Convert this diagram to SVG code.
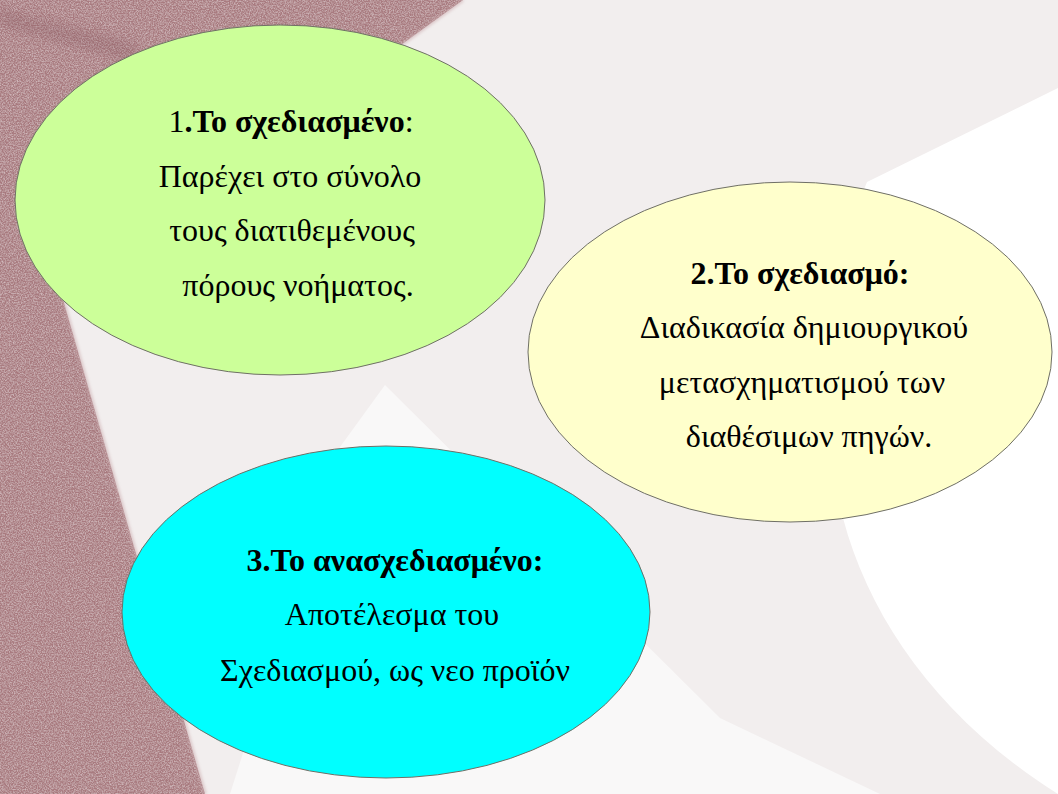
<svg xmlns="http://www.w3.org/2000/svg" width="1058" height="794" viewBox="0 0 1058 794">
  <defs>
    <filter id="grain" x="0" y="0" width="1" height="1">
      <feTurbulence type="fractalNoise" baseFrequency="0.75" numOctaves="2" seed="7" result="noise"/>
      <feColorMatrix in="noise" type="matrix" values="0 0 0 0 0.86  0 0 0 0 0.74  0 0 0 0 0.76  1.1 0 0 0 -0.4" result="spk"/>
      <feComposite in="spk" in2="SourceGraphic" operator="in" result="spk2"/>
      <feMerge><feMergeNode in="SourceGraphic"/><feMergeNode in="spk2"/></feMerge>
    </filter>
    <filter id="soft" x="-0.2" y="-0.2" width="1.4" height="1.4">
      <feGaussianBlur stdDeviation="4"/>
    </filter>
    <filter id="edge" x="-0.1" y="-0.1" width="1.2" height="1.2">
      <feGaussianBlur stdDeviation="1.5"/>
    </filter>
  </defs>
  <style>
    .node ellipse { stroke: #6f6f66; stroke-width: 1; }
    .txt { font-size: 32px; fill: #000; text-anchor: middle; }
    .b { font-weight: bold; }
  </style>

  <!-- background -->
  <g id="background">
    <rect x="0" y="0" width="1058" height="794" fill="#f2eeee"/>
    <path d="M1058,88 L867,182 L800,350 L843,518 C870,620 940,720 1058,794 Z" fill="#ffffff"/>
    <polygon points="385,385 720,718 880,794 230,794 340,447" fill="#f9f8f8"/>
    <path d="M0,0 H463 L405,42 L60.6,291 L205,794 H0 Z" fill="#a87a7f" filter="url(#grain)"/>
    <path d="M463,0 L405,42 L60.6,291 L205,794" fill="none" stroke="#c9a8ab" stroke-width="3" opacity="0.6" filter="url(#edge)"/>
    <polygon points="0,8 0,26 130,62 140,44" fill="#7d4d55" opacity="0.2" filter="url(#soft)"/>
  </g>

  <g id="connectors"/>

  <g id="node1" class="node">
    <ellipse cx="280" cy="200" rx="265" ry="175" fill="#ccff99"/>
    <text class="txt" x="291" y="132" font-family="Liberation Serif, serif">1<tspan class="b">.Το σχεδιασμένο</tspan>:</text>
    <text class="txt" x="290" y="187" font-family="Liberation Serif, serif">Παρέχει στο σύνολο</text>
    <text class="txt" x="292" y="241" font-family="Liberation Serif, serif">τους διατιθεμένους</text>
    <text class="txt" x="298" y="296" font-family="Liberation Serif, serif">πόρους νοήματος.</text>
  </g>

  <g id="node2" class="node">
    <ellipse cx="790" cy="352" rx="262" ry="170" fill="#ffffcc"/>
    <text class="txt b" x="800" y="284" font-family="Liberation Serif, serif">2.Το σχεδιασμό:</text>
    <text class="txt" x="804" y="338" font-family="Liberation Serif, serif">Διαδικασία δημιουργικού</text>
    <text class="txt" x="802" y="393" font-family="Liberation Serif, serif">μετασχηματισμού των</text>
    <text class="txt" x="809" y="447" font-family="Liberation Serif, serif">διαθέσιμων πηγών.</text>
  </g>

  <g id="node3" class="node">
    <ellipse cx="386" cy="612" rx="264" ry="166" fill="#00ffff"/>
    <text class="txt b" x="395" y="571" font-family="Liberation Serif, serif">3.Το ανασχεδιασμένο:</text>
    <text class="txt" x="392" y="625" font-family="Liberation Serif, serif">Αποτέλεσμα του</text>
    <text class="txt" x="395" y="681" font-family="Liberation Serif, serif">Σχεδιασμού, ως νεο προϊόν</text>
  </g>
</svg>
